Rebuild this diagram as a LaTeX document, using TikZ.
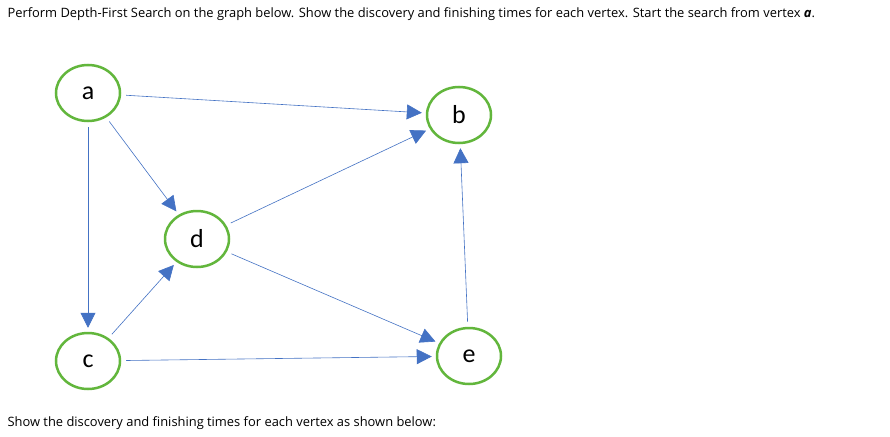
\documentclass[tikz,border=0pt]{standalone}
\usepackage{fontspec}
\setmainfont{Open Sans}
\newfontfamily\lblfont{Carlito}
\usetikzlibrary{arrows.meta,shapes.geometric}
\definecolor{vgreen}{RGB}{98,182,60}
\definecolor{eblue}{RGB}{68,114,196}
\begin{document}
\begin{tikzpicture}[x=1pt,y=-1pt,
  vert/.style={draw=vgreen,line width=2.5pt,ellipse,minimum width=64pt,minimum height=56pt,inner sep=0pt,font=\lblfont\fontsize{26}{26}\selectfont},
  edge/.style={draw=eblue,line width=0.6pt,-{Triangle[length=15pt,width=15pt]},shorten <=5pt,shorten >=4pt}]
\useasboundingbox[fill=white] (0,0) rectangle (890,436);
\node[anchor=west,font=\fontsize{12.9}{15}\selectfont] (t1) at (4,14) {Perform Depth-First Search on the graph below. Show the discovery and finishing times for each vertex. Start the search from vertex \textbf{\textit{a}}.};
\node[anchor=west,font=\fontsize{12.9}{15}\selectfont] (t2) at (4,423) {Show the discovery and finishing times for each vertex as shown below:};
\node[vert] (a) at (88,93) {a};
\node[vert] (b) at (459,115) {b};
\node[vert] (d) at (197,239) {d};
\node[vert] (c) at (88,361) {c};
\node[vert] (e) at (469,356) {e};
\draw[edge] (a) -- (b);
\draw[edge] (a) -- (c);
\draw[edge] (a) -- (d);
\draw[edge] (d) -- (b);
\draw[edge] (d) -- (e);
\draw[edge] (c) -- (d);
\draw[edge] (c) -- (e);
\draw[edge] (e) -- (b);
\end{tikzpicture}
\end{document}
